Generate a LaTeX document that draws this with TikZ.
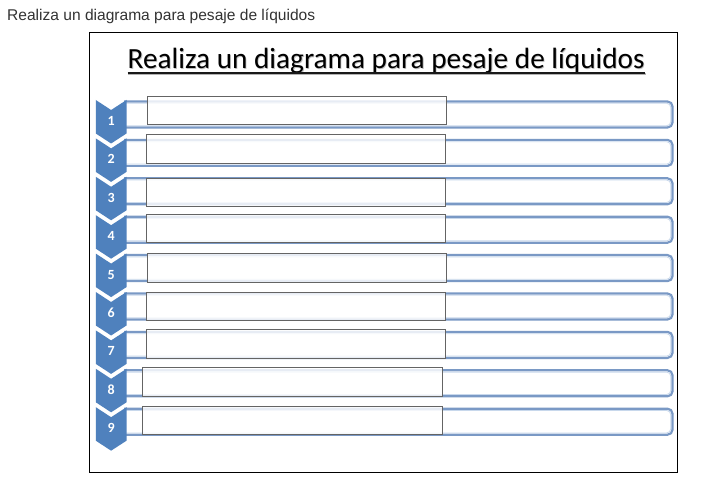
\documentclass[tikz,border=0pt]{standalone}
\usepackage{fontspec}
\usepackage{graphicx}
\setmainfont{Liberation Sans}
\newfontfamily\calib{Carlito}
\definecolor{chevblue}{RGB}{79,129,189}
\definecolor{barline}{RGB}{122,153,197}
\definecolor{barinner}{RGB}{200,216,236}
\definecolor{boxline}{RGB}{100,100,100}
\definecolor{captext}{RGB}{51,51,51}
\tikzset{
  barshape/.style={draw=barline, line width=2.2pt, rounded corners=5pt, fill=white},
  barhi/.style={draw=barinner, line width=0.8pt, rounded corners=4pt},
  chevshape/.style={fill=chevblue, draw=none},
  numtext/.style={text=white, font=\calib\bfseries\fontsize{14}{14}\selectfont, inner sep=0pt},
  inbox/.style={draw=boxline, line width=0.8pt, fill=white, fill opacity=0.82, draw opacity=1},
}
\begin{document}
\begin{tikzpicture}[x=1pt,y=-1pt]
\useasboundingbox (0,0) rectangle (701,478);
\fill[white] (0,0) rectangle (701,478);
% caption
\node[anchor=base west, inner sep=0pt, text=captext] (caption) at (7,20.7)
  {\resizebox{308pt}{!}{\fontsize{14}{16}\selectfont Realiza un diagrama para pesaje de líquidos}};
% frame
\draw[line width=1.2pt] (89.5,32.5) rectangle (677.5,472.5);
\coordinate (frameNW) at (89.5,32.5);
% title with soft shadow
\node[anchor=base west, inner sep=0pt, text=black!25] (titleshadow) at (128.3,69.3)
  {\resizebox{517pt}{!}{\calib\fontsize{30}{32}\selectfont Realiza un diagrama para pesaje de líquidos}};
\draw[line width=1.6pt, black!30] (128.3,74.3) -- (645.8,74.3);
\node[anchor=base west, inner sep=0pt] (title) at (127.5,68.5)
  {\resizebox{517pt}{!}{\calib\fontsize{30}{32}\selectfont Realiza un diagrama para pesaje de líquidos}};
\draw[line width=1.6pt, black!90] (127.5,72.8) -- (645,72.8);
% bars
\foreach \k in {1,...,9}{
  \pgfmathsetmacro{\off}{38.4*(\k-1)}
  \pgfmathsetmacro{\yt}{101.5+\off}
  \pgfmathsetmacro{\yb}{127.5+\off}
  \draw[barshape] (124,\yt) -- (672.5,\yt) -- (672.5,\yb) -- (124,\yb);
  \draw[barhi] (124,\yt+1.8) -- (670.7,\yt+1.8) -- (670.7,\yb-1.8) -- (124,\yb-1.8);
}
% chevrons, numbers, input boxes
\foreach \k/\bl/\br/\bt/\bb in {1/147/446/96/124.5, 2/146/445/134.5/163, 3/146/445/178/206.5, 4/146/445/214/242, 5/147/446/253.5/282, 6/146/445.5/292/320.5, 7/146/445.5/329.5/358, 8/142.5/442/367.5/396.5, 9/142.5/442/406/434.5}{
  \pgfmathsetmacro{\off}{38.4*(\k-1)}
  \pgfmathsetmacro{\yc}{100+\off}
  \fill[chevshape] (95.8,\yc) -- (111.1,\yc+10) -- (126.5,\yc) -- (126.5,\yc+33.5) -- (111.1,\yc+43.5) -- (95.8,\yc+33.5) -- cycle;
  \node[numtext] (num\k) at (111.1,\yc+21) {\k};
  \draw[inbox] (\bl,\bt) rectangle (\br,\bb);
  \node[inner sep=0pt, minimum width=\br-\bl, minimum height=\bb-\bt] (box\k) at ({(\bl+\br)/2},{(\bt+\bb)/2}) {};
}
\end{tikzpicture}
\end{document}
